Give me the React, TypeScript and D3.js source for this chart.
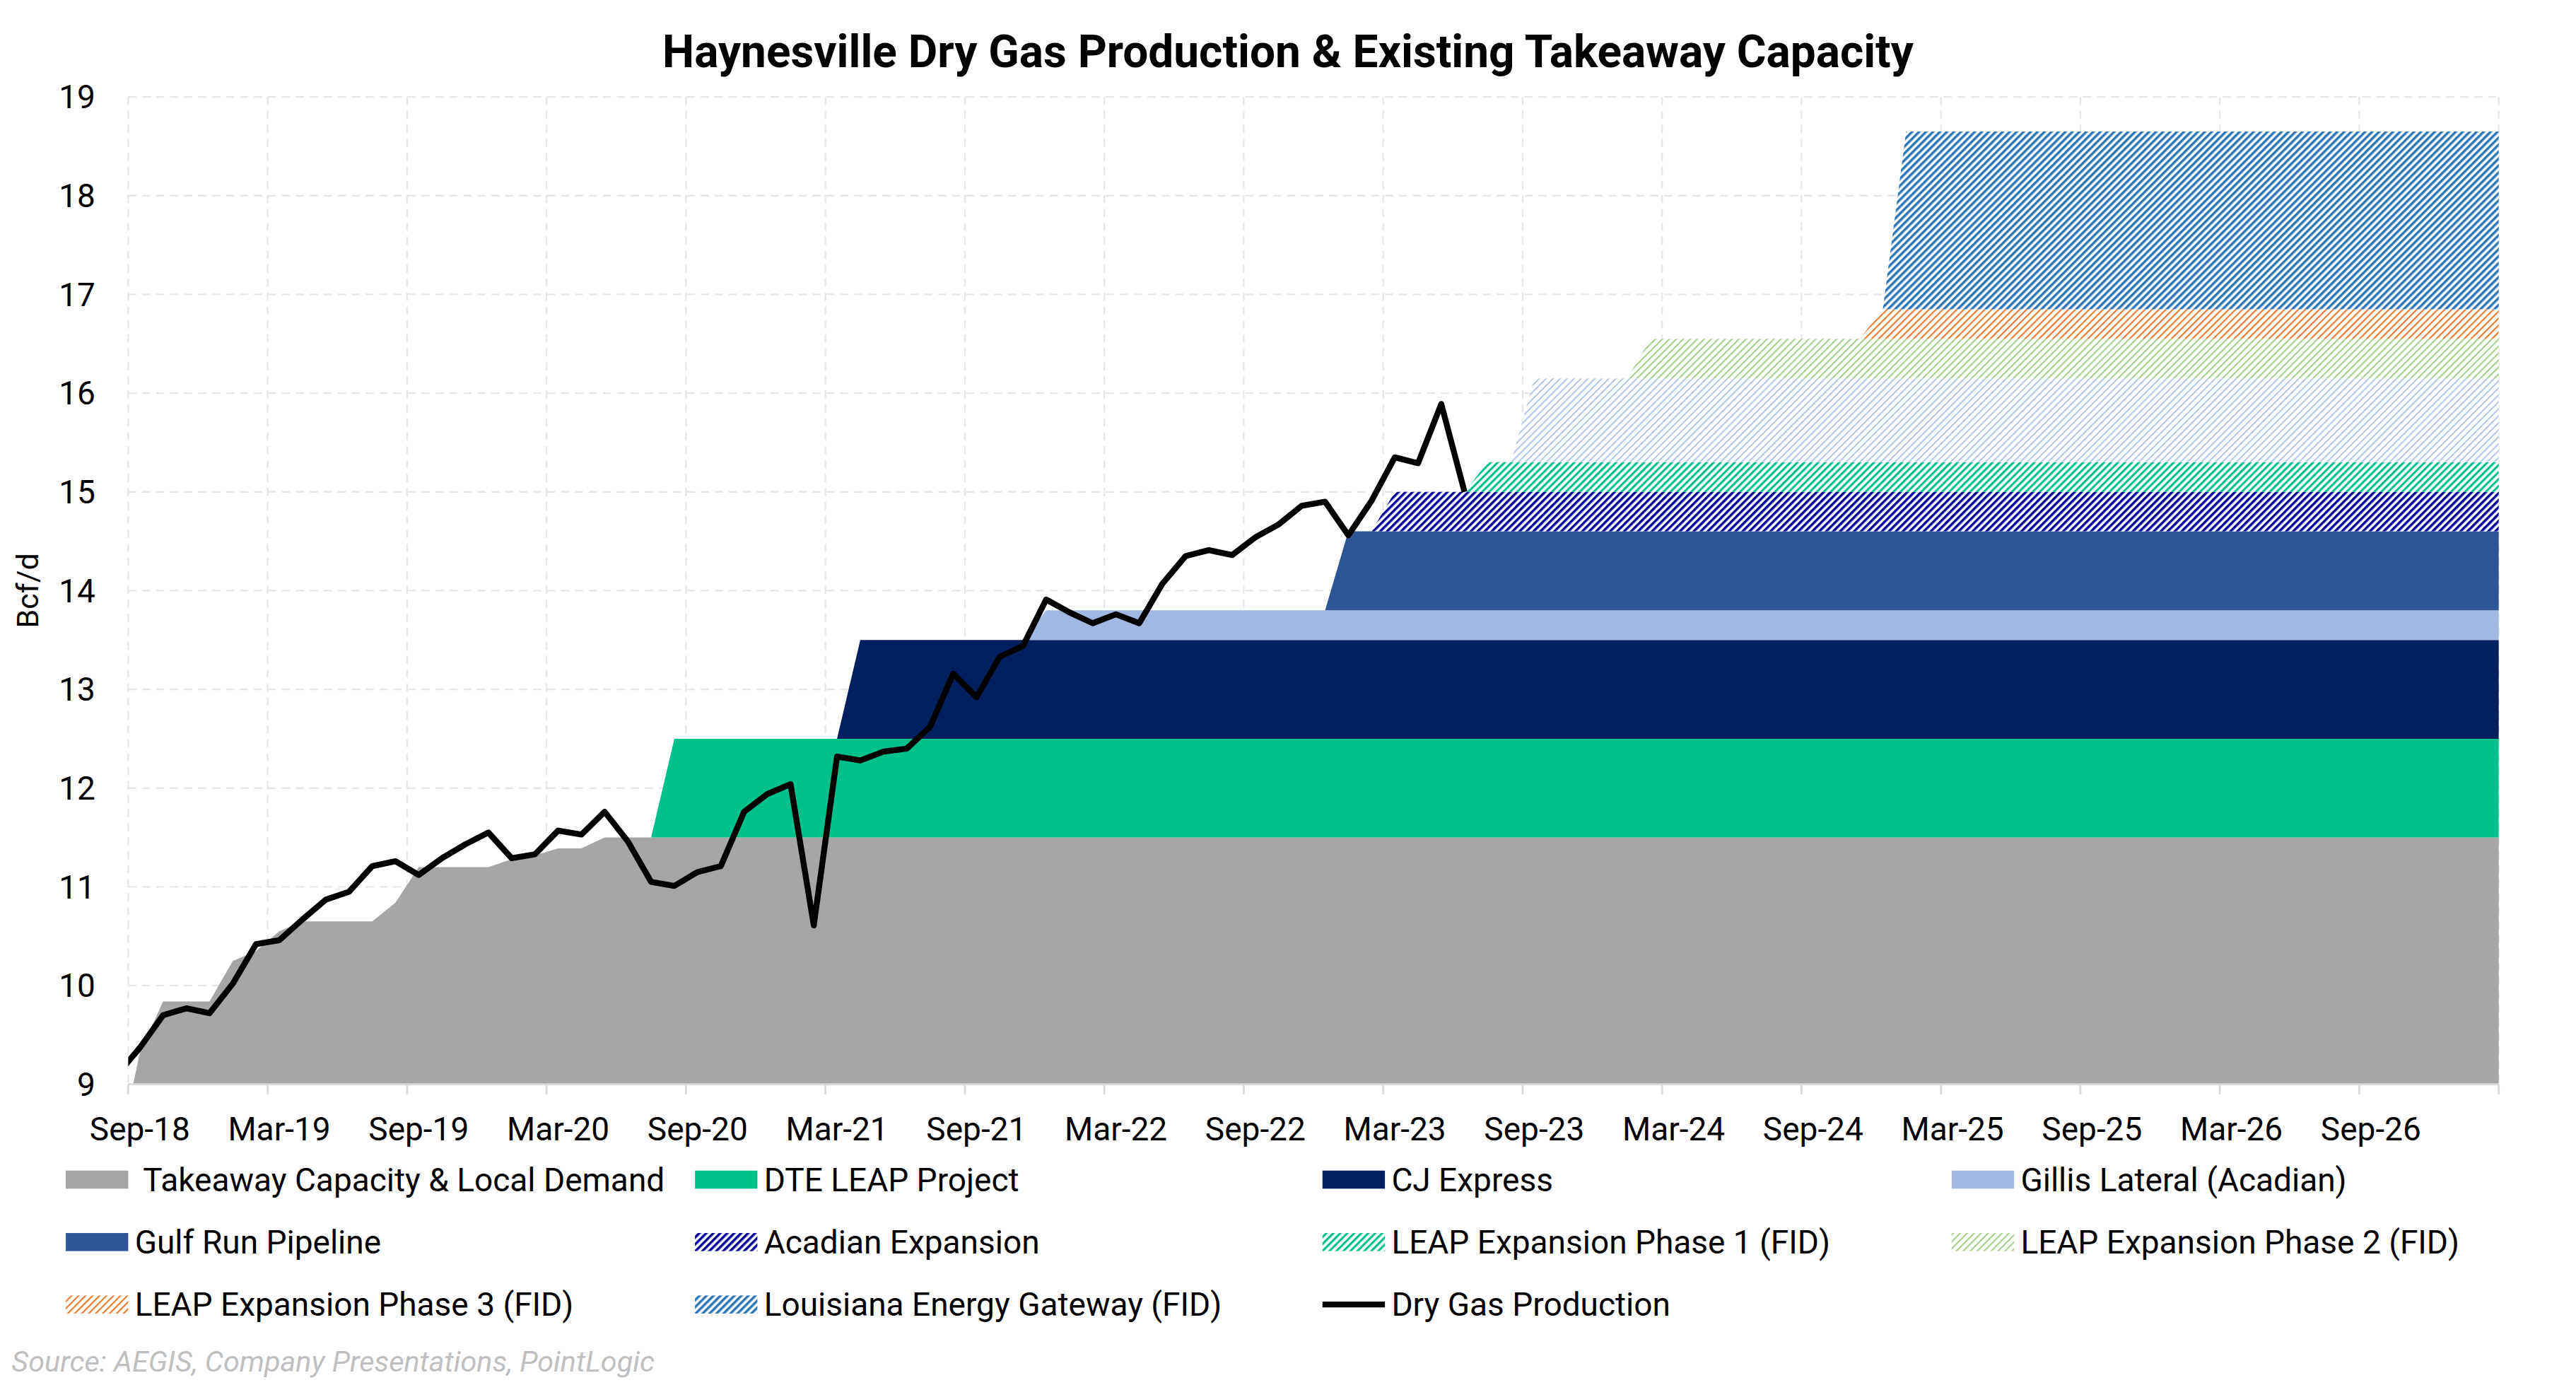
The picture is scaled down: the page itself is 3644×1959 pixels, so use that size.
import React from 'react';
import * as d3 from 'd3';

// monthly categories, Aug-18 .. Mar-27 (first and last fall just outside the axis and are clipped)
const months = d3.timeMonth.range(new Date(2018, 7, 1), new Date(2027, 3, 1));

// Dry gas production, Bcf/d, Aug-18 .. Jun-23
const production = [
  9.09, 9.37, 9.7, 9.77, 9.72, 10.02, 10.42, 10.46, 10.67, 10.87, 10.95, 11.21, 11.26,
  11.12, 11.29, 11.43, 11.55, 11.29, 11.33, 11.57, 11.53, 11.76, 11.46, 11.05, 11.01,
  11.15, 11.21, 11.76, 11.94, 12.04, 10.61, 12.32, 12.28, 12.37, 12.4, 12.62, 13.16,
  12.92, 13.33, 13.44, 13.91, 13.78, 13.67, 13.76, 13.67, 14.07, 14.35, 14.41, 14.36,
  14.54, 14.67, 14.86, 14.9, 14.56, 14.91, 15.35, 15.29, 15.89, 15.0,
];

// Takeaway capacity & local demand, Aug-18 .. May-20, flat afterwards
const takeawayRamp = [
  8.2, 9.32, 9.84, 9.84, 9.84, 10.25, 10.35, 10.55, 10.65, 10.65, 10.65, 10.65, 10.84,
  11.2, 11.2, 11.2, 11.2, 11.28, 11.32, 11.39, 11.39, 11.5,
];
const takeawayPlateau = 11.5;

// capacity additions (stacked on top of takeaway)
const additionKeys = [
  'DTE LEAP Project', 'CJ Express', 'Gillis Lateral (Acadian)', 'Gulf Run Pipeline',
  'Acadian Expansion', 'LEAP Expansion Phase 1 (FID)', 'Other (FID)',
  'LEAP Expansion Phase 2 (FID)', 'LEAP Expansion Phase 3 (FID)', 'Louisiana Energy Gateway (FID)',
];
const additionStart = [
  '2020-08', '2021-04', '2021-12', '2023-01', '2023-03', '2023-07', '2023-09', '2024-02', '2024-12', '2025-01',
];
const additionSize = [1.0, 1.0, 0.3, 0.8, 0.4, 0.3, 0.85, 0.4, 0.3, 1.8];

const yTicks = [9, 10, 11, 12, 13, 14, 15, 16, 17, 18, 19];

const TAKEAWAY = 'Takeaway Capacity & Local Demand';

const fills: Record<string, string> = {
  [TAKEAWAY]: '#a6a6a6',
  'DTE LEAP Project': '#00c08b',
  'CJ Express': '#002060',
  'Gillis Lateral (Acadian)': '#a2b8e0',
  'Gulf Run Pipeline': '#2f5597',
  'Acadian Expansion': 'url(#p-acadian)',
  'LEAP Expansion Phase 1 (FID)': 'url(#p-leap1)',
  'Other (FID)': 'url(#p-other)',
  'LEAP Expansion Phase 2 (FID)': 'url(#p-leap2)',
  'LEAP Expansion Phase 3 (FID)': 'url(#p-leap3)',
  'Louisiana Energy Gateway (FID)': 'url(#p-leg)',
};

const hatches = [
  { id: 'p-acadian', color: '#000096', share: 0.5 },
  { id: 'p-leap1', color: '#00c08b', share: 0.45 },
  { id: 'p-other', color: '#b4c7e7', share: 0.3 },
  { id: 'p-leap2', color: '#a9d18e', share: 0.32 },
  { id: 'p-leap3', color: '#ed7d31', share: 0.32 },
  { id: 'p-leg', color: '#2e75b6', share: 0.5 },
];

const legendItems = [
  TAKEAWAY, 'DTE LEAP Project', 'CJ Express', 'Gillis Lateral (Acadian)',
  'Gulf Run Pipeline', 'Acadian Expansion', 'LEAP Expansion Phase 1 (FID)', 'LEAP Expansion Phase 2 (FID)',
  'LEAP Expansion Phase 3 (FID)', 'Louisiana Energy Gateway (FID)', 'Dry Gas Production',
];

const W = 1568;
const H = 843;
const left = 78;
const right = 1521;
const top = 59;
const bottom = 660;
const FONT = 'Roboto, "Noto Sans", sans-serif';

export default function App() {
  const x = d3.scaleLinear().domain([0, 102]).range([left, right]);
  const y = d3.scaleLinear().domain([9, 19]).range([bottom, top]);
  const fmt = d3.timeFormat('%b-%y');
  const parse = d3.timeParse('%Y-%m');

  const rows = months.map((m, i) => {
    const row: Record<string, number> = {
      [TAKEAWAY]: i < takeawayRamp.length ? takeawayRamp[i] : takeawayPlateau,
    };
    additionKeys.forEach((k, j) => {
      row[k] = m >= (parse(additionStart[j]) as Date) ? additionSize[j] : 0;
    });
    return row;
  });

  const keys = [TAKEAWAY, ...additionKeys];
  const stacked = d3.stack<Record<string, number>>().keys(keys)(rows);

  // month index 0 = Sep-18; points sit in the middle of each month
  const xc = (i: number) => x(i - 0.5);

  const area = d3
    .area<d3.SeriesPoint<Record<string, number>>>()
    .x((_, i) => xc(i))
    .y0((d) => y(d[0]))
    .y1((d) => y(d[1]));

  const line = d3
    .line<number>()
    .x((_, i) => xc(i))
    .y((d) => y(d));

  const xTicks = d3.range(0, 103, 6);

  const colX = [40, 423, 805, 1188];
  const rowY = [718, 756, 794];

  return (
    <>
      <style>{'body{margin:0}'}</style>
      <svg
        width={3644}
        height={1959}
        viewBox={`0 0 ${W} ${H}`}
        style={{ display: 'block', background: '#fff' }}
        fontFamily={FONT}
      >
        <defs>
          <clipPath id="plot">
            <rect x={left} y={0} width={right - left} height={bottom} />
          </clipPath>
          {hatches.map((h) => (
            <pattern
              key={h.id}
              id={h.id}
              patternUnits="userSpaceOnUse"
              width={3}
              height={3}
              patternTransform="rotate(45)"
            >
              <rect width={3} height={3} fill="#fff" />
              <rect width={3 * h.share} height={3} fill={h.color} />
            </pattern>
          ))}
        </defs>

        <text x={784} y={41} textAnchor="middle" fontSize={27.5} fontWeight="bold" fill="#000">
          Haynesville Dry Gas Production &amp; Existing Takeaway Capacity
        </text>

        {/* gridlines */}
        <g stroke="#e7e7e7" strokeWidth={1} strokeDasharray="5,3.5">
          {yTicks.slice(1).map((v) => (
            <line key={v} x1={left} x2={right} y1={y(v)} y2={y(v)} />
          ))}
          {xTicks.map((t) => (
            <line key={t} x1={x(t)} x2={x(t)} y1={top} y2={bottom} />
          ))}
        </g>

        <g clipPath="url(#plot)">
          {stacked.map((s) => (
            <path key={s.key} d={area(s) ?? ''} fill={fills[s.key]} />
          ))}
          <path
            d={line(production) ?? ''}
            fill="none"
            stroke="#000"
            strokeWidth={3.6}
            strokeLinejoin="round"
          />
        </g>

        {/* x axis */}
        <line x1={left} x2={right} y1={bottom} y2={bottom} stroke="#d9d9d9" strokeWidth={1.2} />
        {xTicks.map((t) => (
          <line key={t} x1={x(t)} x2={x(t)} y1={bottom} y2={bottom + 6} stroke="#d9d9d9" strokeWidth={1.2} />
        ))}
        {xTicks.slice(0, -1).map((t) => (
          <text key={t} x={x(t + 0.5)} y={694} textAnchor="middle" fontSize={19.8} fill="#000">
            {fmt(months[t + 1])}
          </text>
        ))}

        {/* y axis */}
        {yTicks.map((v) => (
          <text key={v} x={58} y={y(v)} dy="0.35em" textAnchor="end" fontSize={19.8} fill="#000">
            {v}
          </text>
        ))}
        <text
          transform={`translate(23,${(top + bottom) / 2}) rotate(-90)`}
          textAnchor="middle"
          fontSize={18.5}
          fill="#000"
        >
          Bcf/d
        </text>

        {/* legend */}
        {legendItems.map((name, i) => {
          const cx = colX[i % 4];
          const cy = rowY[Math.floor(i / 4)];
          const tx = i === 0 ? cx + 47 : cx + 42;
          return (
            <g key={name}>
              {name === 'Dry Gas Production' ? (
                <line x1={cx} x2={cx + 38} y1={cy} y2={cy} stroke="#000" strokeWidth={3.6} />
              ) : (
                <rect x={cx} y={cy - 5.5} width={38} height={11} fill={fills[name]} />
              )}
              <text x={tx} y={cy} dy="0.35em" fontSize={19.8} fill="#000">
                {name}
              </text>
            </g>
          );
        })}

        <text x={7} y={835} fontSize={17.8} fontStyle="italic" fill="#bfbfbf">
          Source: AEGIS, Company Presentations, PointLogic
        </text>
      </svg>
    </>
  );
}
